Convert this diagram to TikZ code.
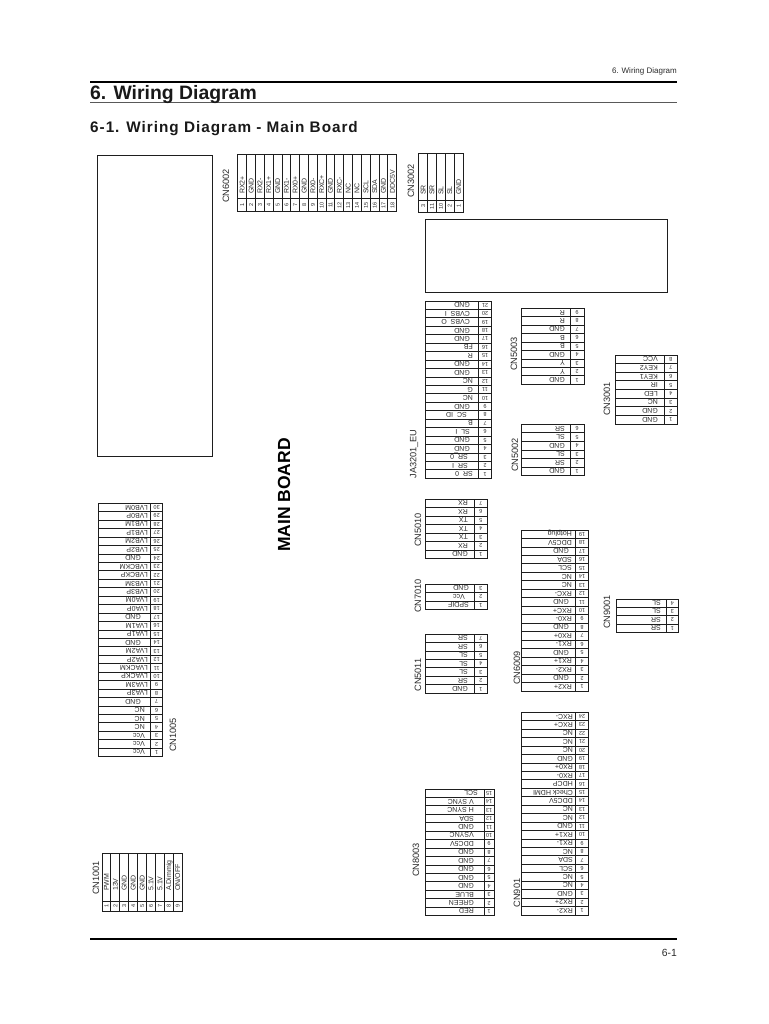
\documentclass[tikz,border=0pt]{standalone}
\usepackage{fontspec}
\setmainfont{Liberation Sans}
\newfontfamily\subfont[LetterSpace=6.4]{Liberation Sans}
\definecolor{ln}{HTML}{1E1E1E}
\definecolor{tx}{HTML}{2A2A2A}
\newcommand{\fs}[1]{\fontsize{#1}{#1}\selectfont}
\tikzset{
  box/.style={draw=ln,line width=1pt},
  rowline/.style={draw=ln,line width=0.85pt},
  lab/.style={inner sep=0pt,text=tx,font=\fs{7},text height=5pt,text depth=0pt},
  numlab/.style={inner sep=0pt,text=tx,font=\fs{5.5},text height=4pt,text depth=0pt},
  cn/.style={inner sep=0pt,text=tx,font=\fs{9.2},rotate=90},
}
% name, x0, xdiv, x1, y0, y1, text start x, n, list of label/dx (top row = pin n)
\newcommand{\rowtable}[9]{
  \draw[box] (#2,#5) rectangle (#4,#6);
  \draw[rowline] (#3,#5) -- (#3,#6);
  \foreach \lab/\dx [count=\i from 0] in {#9}{
    \pgfmathsetmacro{\h}{(#6-#5)/#8}
    \pgfmathsetmacro{\yy}{#5+(\i+0.5)*\h}
    \pgfmathtruncatemacro{\pin}{#8-\i}
    \pgfmathsetmacro{\xs}{#7+\dx}
    \ifnum\i>0 \draw[rowline] (#2,{#5+\i*\h}) -- (#4,{#5+\i*\h}); \fi
    \node[lab,rotate=180,anchor=west] (#1-l\pin) at (\xs,\yy) {\lab};
    \node[numlab,rotate=180] (#1-n\pin) at ({(#3+#4)/2},\yy) {\pin};
  }
}
% name, x0, x1, y0, ydiv, y1, text start y, n, list of pin/label (left to right)
\newcommand{\coltable}[9]{
  \draw[box] (#2,#4) rectangle (#3,#6);
  \draw[rowline] (#2,#5) -- (#3,#5);
  \foreach \pin/\lab [count=\i from 0] in {#9}{
    \pgfmathsetmacro{\w}{(#3-#2)/#8}
    \pgfmathsetmacro{\xx}{#2+(\i+0.5)*\w}
    \ifnum\i>0 \draw[rowline] ({#2+\i*\w},#4) -- ({#2+\i*\w},#6); \fi
    \node[lab,rotate=90,anchor=west] (#1-l\i) at (\xx,#7) {\lab};
    \node[numlab,rotate=90] (#1-n\i) at (\xx,{(#5+#6)/2}) {\pin};
  }
}
\begin{document}
\begin{tikzpicture}[x=1pt,y=-1pt]
\useasboundingbox (0,0) rectangle (768,1024);
% header and footer
\node[inner sep=0,anchor=base east,text=tx,font=\fs{8}] (hdr) at (677,74) {6. Wiring Diagram};
\draw[line width=1.5pt,draw=black] (90,82) -- (677,82);
\draw[line width=1pt,draw=black!65] (90,102.7) -- (677,102.7);
\node[inner sep=0,anchor=base west,font=\fs{19.4}\bfseries,text=black!90] (title) at (90,100) {6. Wiring Diagram};
\node[inner sep=0,anchor=base west,font=\subfont\fs{15.3}\bfseries,text=black!90] (sub) at (90,133) {6-1. Wiring Diagram - Main Board};
\draw[line width=1.5pt,draw=black] (90,939) -- (677,939);
\node[inner sep=0,anchor=base east,text=tx,font=\fs{10.4}] (pg) at (677,956) {6-1};
% blank boxes
\draw[box] (97.4,155.3) rectangle (212.7,456);
\draw[box] (425.7,219.3) rectangle (667,292);
\node[inner sep=0,rotate=90,font=\fs{17.5}\bfseries,text=black] (mb) at (284,495) {MAIN BOARD};
% column tables
\coltable{cn6002}{237.8}{396.7}{155}{198.7}{211.3}{194}{18}{1/RX2+,2/GND,3/RX2-,4/RX1+,5/GND,6/RX1-,7/RX0+,8/GND,9/RX0-,10/RXC+,11/GND,12/RXC-,13/NC,14/NC,15/SCL,16/SDA,17/GND,18/DDC5V}
\node[cn] (t6002) at (226,186) {CN6002};
\coltable{cn3002}{418.7}{463}{153.3}{200}{212.7}{195}{5}{3/SR,11/SR,10/SL,2/SL,1/GND}
\node[cn] (t3002) at (411,181) {CN3002};
\coltable{cn1001}{102}{182}{853}{901}{911}{891}{9}{1/PWM,2/13V,3/GND,4/GND,5/GND,6/5.1V,7/5.1V,8/A.Dimmig,9/{ON/OFF}}
\node[cn] (t1001) at (96,878) {CN1001};
% row tables
\rowtable{cn1005}{98.3}{150.7}{162.7}{503.3}{756.7}{148}{30}{LVB0M/0,LVB0P/0,LVB1M/0,LVB1P/0,LVB2M/0,LVB2P/0,GND/-7,LVBCKM/0,LVBCKP/0,LVB3M/0,LVB3P/0,LVA0M/0,LVA0P/0,GND/-7,LVA1M/0,LVA1P/0,GND/-7,LVA2M/0,LVA2P/0,LVACKM/0,LVACKP/0,LVA3M/0,LVA3P/0,GND/-7,NC/-3,NC/-3,NC/-3,Vcc/-3,Vcc/-3,Vcc/-3}
\node[cn] (t1005) at (173,735) {CN1005};
\rowtable{ja3201}{425.7}{478.3}{491.7}{301}{478.3}{470}{21}{GND/0,CVBS\_I/0,CVBS\_O/0,GND/0,GND/0,FB/3,R/3,GND/0,GND/0,NC/3,G/3,NC/3,GND/0,SC\_ID/-3,B/3,SL\_I/0,GND/0,GND/0,SR\_0/-2,SR\_I/-2,SR\_0/3}
\node[cn] (tja) at (414,454) {JA3201\_EU};
\rowtable{cn5003}{521.7}{570.3}{584}{308.3}{384.3}{565}{9}{R/0,R/0,GND/0,B/0,B/0,GND/0,Y/0,Y/0,GND/0}
\node[cn] (t5003) at (514,354) {CN5003};
\rowtable{cn5002}{521.7}{570.3}{584}{424.3}{475.7}{565}{6}{SR/0,SL/0,GND/0,SL/0,SR/0,GND/0}
\node[cn] (t5002) at (515,455) {CN5002};
\rowtable{cn3001}{615}{664}{677.7}{355}{424}{658}{8}{VCC/0,KEY2/0,KEY1/0,IR/0,LED/0,NC/0,GND/0,GND/0}
\node[cn] (t3001) at (607,399) {CN3001};
\rowtable{cn5010}{425.7}{474}{487.7}{499}{558.7}{468}{7}{RX/0,RX/0,TX/0,TX/0,TX/0,RX/0,GND/0}
\node[cn] (t5010) at (418,530) {CN5010};
\rowtable{cn7010}{425.7}{474}{487.7}{584.3}{609.3}{469}{3}{GND/0,Vcc/-4,SPDIF/0}
\node[cn] (t7010) at (418,596) {CN7010};
\rowtable{cn5011}{425.7}{474}{487.7}{634}{693.3}{468}{7}{SR/0,SR/0,SL/0,SL/0,SL/0,SR/0,GND/0}
\node[cn] (t5011) at (418,675) {CN5011};
\rowtable{cn6009}{521.7}{575.7}{588.3}{530}{691}{572}{19}{Hotplug/0,DDC5V/0,GND/-3,SDA/0,SCL/0,NC/0,NC/0,RXC-/0,GND/-3,RXC+/0,RX0-/0,GND/-3,RX0+/0,RX1-/0,GND/-3,RX1+/0,RX2-/0,GND/-3,RX2+/0}
\node[cn] (t6009) at (517,668) {CN6009};
\rowtable{cn9001}{616.7}{666.7}{678}{599}{632.3}{661}{4}{SL/0,SL/0,SR/0,SR/0}
\node[cn] (t9001) at (607,612) {CN9001};
\rowtable{cn901}{521.7}{575.7}{588.3}{712.3}{915}{573}{24}{RXC-/0,RXC+/0,NC/0,NC/0,NC/0,GND/0,RX0+/0,RX0-/0,HDCP/0,Check HDMI/0,DDC5V/0,NC/0,NC/0,GND/0,RX1+/0,RX1-/0,NC/0,SDA/0,SCL/0,NC/0,NC/0,GND/0,RX2+/0,RX2-/0}
\node[cn] (t901) at (517,893) {CN901};
\rowtable{cn8003}{425.7}{484}{494.3}{789}{915.7}{474}{15}{SCL/4,V SYNC/0,H SYNC/0,SDA/0,GND/0,VSYNC/0,DDC5V/0,GND/0,GND/0,GND/0,GND/0,GND/0,BLUE/0,GREEN/0,RED/0}
\node[cn] (t8003) at (416,860) {CN8003};
\end{tikzpicture}
\end{document}
